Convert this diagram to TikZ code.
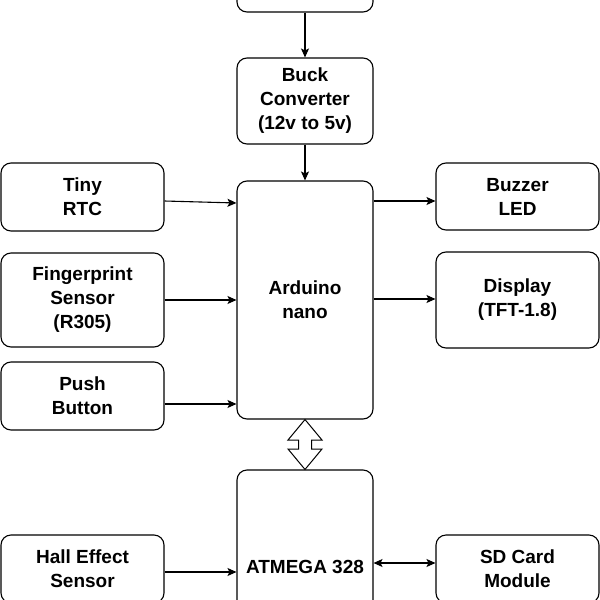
\documentclass[tikz,border=0pt]{standalone}
\usepackage{fontspec}
\setmainfont{Liberation Sans}
\usetikzlibrary{arrows.meta}
\begin{document}
\begin{tikzpicture}[x=1pt,y=-1pt,
 box/.style={draw, rounded corners=10pt, line width=1.1pt, fill=white, align=center,
   font=\fontsize{19}{24}\selectfont\bfseries, inner sep=0pt},
 conn/.style={line width=1.1pt, -{Stealth[length=9pt,width=8pt,inset=2pt]}},
 bconn/.style={line width=1.1pt, {Stealth[length=9pt,width=8pt,inset=2pt]}-{Stealth[length=9pt,width=8pt,inset=2pt]}},
]
\useasboundingbox (0,0) rectangle (600,600);
\clip (0,0) rectangle (600,600);
\fill[white] (0,0) rectangle (600,600);

\node[box, minimum width=136pt, minimum height=84pt] (top) at (305,-30) {};
\node[box, minimum width=136pt, minimum height=86pt] (buck) at (305,101) {Buck\\Converter\\(12v to 5v)};
\node[box, minimum width=136pt, minimum height=238pt] (ard) at (305,300) {Arduino\\nano};
\node[box, minimum width=163pt, minimum height=68pt] (rtc) at (82.5,197) {Tiny\\RTC};
\node[box, minimum width=163pt, minimum height=94pt] (fp) at (82.5,300) {Fingerprint\\Sensor\\(R305)};
\node[box, minimum width=163pt, minimum height=68pt] (push) at (82.5,396) {Push\\Button};
\node[box, minimum width=163pt, minimum height=67pt] (buzz) at (517.5,196.5) {Buzzer\\LED};
\node[box, minimum width=163pt, minimum height=96pt] (disp) at (517.5,300) {Display\\(TFT-1.8)};
\node[box, minimum width=136pt, minimum height=194pt] (atm) at (305,567) {ATMEGA 328};
\node[box, minimum width=163pt, minimum height=68pt] (hall) at (82.5,569) {Hall Effect\\Sensor};
\node[box, minimum width=163pt, minimum height=68pt] (sd) at (517.5,569) {SD Card\\Module};

\draw[conn] (top.south) -- (buck.north);
\draw[conn] (buck.south) -- (ard.north);
\draw[conn] ([yshift=-4pt]rtc.east) -- ([yshift=97pt]ard.west);
\draw[conn] (fp.east) -- (ard.west);
\draw[conn] ([yshift=-8pt]push.east) -- ([yshift=-104pt]ard.west);
\draw[conn] ([yshift=99pt]ard.east) -- ([yshift=-4.5pt]buzz.west);
\draw[conn] ([yshift=1pt]ard.east) -- ([yshift=1pt]disp.west);
\draw[conn] ([yshift=-3pt]hall.east) -- ([yshift=-5pt]atm.west);
\draw[bconn] ([yshift=4pt]atm.east) -- ([yshift=6pt]sd.west);

\draw[line width=1pt, fill=white, line join=miter]
  (ard.south) -- (322,440) -- (311.5,440) -- (311.5,449) -- (322,449) -- (atm.north)
  -- (288,449) -- (298.5,449) -- (298.5,440) -- (288,440) -- cycle;
\end{tikzpicture}
\end{document}
